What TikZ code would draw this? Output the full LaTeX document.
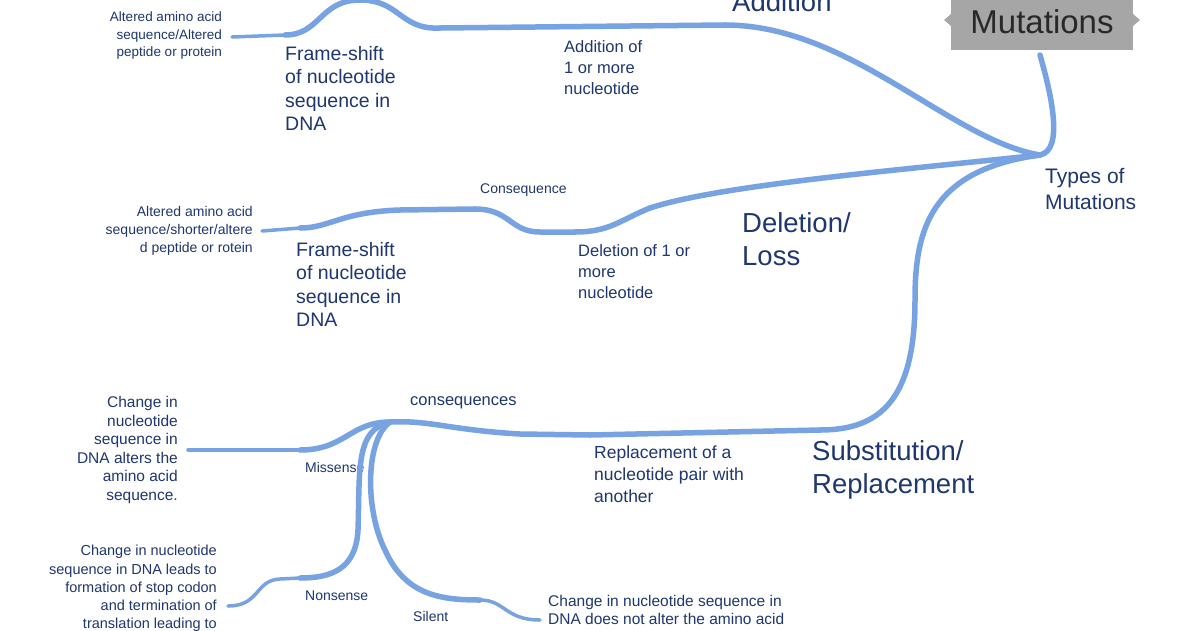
\documentclass[tikz,border=0pt]{standalone}
\usepackage{fontspec}
\setmainfont{Liberation Sans}
\begin{document}
\begin{tikzpicture}[x=1pt,y=-1pt,
  br/.style={color={rgb,255:red,120;green,163;blue,226}, line width=5.5pt, line cap=round},
  brs/.style={br, line width=3.5pt},
  t/.style={inner sep=0pt, anchor=north west, align=left, text={rgb,255:red,30;green,55;blue,110}},
  ts/.style={t, font=\fontsize{15}{19}\selectfont},
  tm/.style={t, font=\fontsize{19.5}{23.5}\selectfont},
  tl/.style={t, font=\fontsize{27.5}{33.5}\selectfont},
  tr/.style={ts, anchor=north east, align=right}]
\useasboundingbox (0,0) rectangle (1200,630);
\fill[white] (0,0) rectangle (1200,630);
% Mutations box
\fill[gray!70] (951,-5) rectangle (1133,50);
\fill[gray!70] (951,14) -- (944,20) -- (951,26) -- cycle;
\fill[gray!70] (1133,14) -- (1140,20) -- (1133,26) -- cycle;
\node[inner sep=0pt, font=\fontsize{33}{36}\selectfont, text={rgb,255:red,40;green,40;blue,40}] (mut) at (1042,22) {Mutations};
\coordinate (mb) at (1040,55);
\coordinate (hub) at (1040,155);
\node[tm, font=\fontsize{21}{26}\selectfont] (types) at (1045,168) {Types of\\Mutations};
\draw[br] (mb) .. controls (1050,90) and (1065,150) .. (hub);
% Addition
\coordinate (a1) at (725,25);
\draw[br] (hub) .. controls (950,140) and (850,25) .. (a1);
\node[tl, anchor=south west] (add) at (732,12) {Addition};
\coordinate (a2) at (440,28);
\draw[br] (a1) -- (a2);
\node[ts, font=\fontsize{16.5}{21}\selectfont] (addt) at (564,40) {Addition of\\1 or more\\nucleotide};
\coordinate (a3) at (285,35);
\draw[br] (a2) .. controls (400,30) and (400,0) .. (360,0) .. controls (320,0) and (320,35) .. (a3);
\coordinate (a4) at (232,37);
\draw[brs] (a3) -- (a4);
\node[tm] (fs1) at (285,46) {Frame-shift\\of nucleotide\\sequence in\\DNA};
\node[tr, font=\fontsize{13.5}{17.5}\selectfont] (aa1) at (222,12) {Altered amino acid\\sequence/Altered\\peptide or protein};
% Deletion
\coordinate (d1) at (650,208);
\draw[br] (hub) .. controls (900,170) and (720,185) .. (d1);
\coordinate (d2) at (575,232);
\draw[br] (d1) .. controls (620,220) and (610,232) .. (d2);
\coordinate (d3) at (475,209);
\draw[br] (d2) -- (540,232) .. controls (510,232) and (510,209) .. (d3);
\coordinate (d4) at (300,228);
\draw[br] (d3) -- (400,210) .. controls (340,212) and (330,228) .. (d4);
\coordinate (d5) at (262,231);
\draw[brs] (d4) -- (d5);
\node[ts, font=\fontsize{14}{17}\selectfont] (cons1) at (480,184) {Consequence};
\node[tl] (del) at (742,212) {Deletion/\\Loss};
\node[ts, font=\fontsize{16.5}{21}\selectfont] (delt) at (578,244) {Deletion of 1 or\\more\\nucleotide};
\node[tm] (fs2) at (296,242) {Frame-shift\\of nucleotide\\sequence in\\DNA};
\node[tr, font=\fontsize{14}{18}\selectfont] (aa2) at (253,206) {Altered amino acid\\sequence/shorter/altere\\d peptide or rotein};
% Substitution
\coordinate (s1) at (820,430);
\draw[br] (hub) .. controls (930,170) and (915,230) .. (915,300) .. controls (915,400) and (880,430) .. (s1);
\coordinate (s2) at (590,435);
\draw[br] (s1) -- (s2);
\coordinate (s3) at (390,422);
\draw[br] (s2) -- (520,434) .. controls (450,430) and (430,420) .. (s3);
\node[tl] (sub) at (812,440) {Substitution/\\Replacement};
\node[ts, font=\fontsize{17.5}{22}\selectfont] (subt) at (594,446) {Replacement of a\\nucleotide pair with\\another};
\node[ts, font=\fontsize{16.5}{20}\selectfont] (cons2) at (410,396) {consequences};
% Missense
\coordinate (m1) at (300,450);
\draw[br] (s3) .. controls (350,422) and (345,450) .. (m1);
\coordinate (m2) at (188,450);
\draw[brs] (m1) -- (m2);
\node[ts, font=\fontsize{14}{17}\selectfont] (mis) at (305,462) {Missense};
\node[tr, font=\fontsize{15.5}{18.6}\selectfont] (mist) at (178,396) {Change in\\nucleotide\\sequence in\\DNA alters the\\amino acid\\sequence.};
% Nonsense
\coordinate (n1) at (300,578);
\draw[br] (s3) .. controls (355,430) and (360,470) .. (358,530) .. controls (356,570) and (330,578) .. (n1);
\coordinate (n2) at (228,606);
\draw[brs] (n1) -- (280,579) .. controls (255,580) and (260,606) .. (n2);
\node[ts, font=\fontsize{14}{17}\selectfont] (non) at (305,591) {Nonsense};
\node[tr, font=\fontsize{14.5}{18.3}\selectfont] (nont) at (217,545) {Change in nucleotide\\sequence in DNA leads to\\formation of stop codon\\and termination of\\translation leading to};
% Silent
\coordinate (l1) at (480,600);
\draw[br] (s3) .. controls (365,440) and (365,510) .. (385,550) .. controls (405,595) and (440,600) .. (l1);
\coordinate (l2) at (540,620);
\draw[brs] (l1) .. controls (505,600) and (505,620) .. (l2);
\node[ts, font=\fontsize{14}{17}\selectfont] (sil) at (413,611) {Silent};
\node[ts, font=\fontsize{15.5}{18.5}\selectfont] (silt) at (548,595) {Change in nucleotide sequence in\\DNA does not alter the amino acid};
\end{tikzpicture}
\end{document}
